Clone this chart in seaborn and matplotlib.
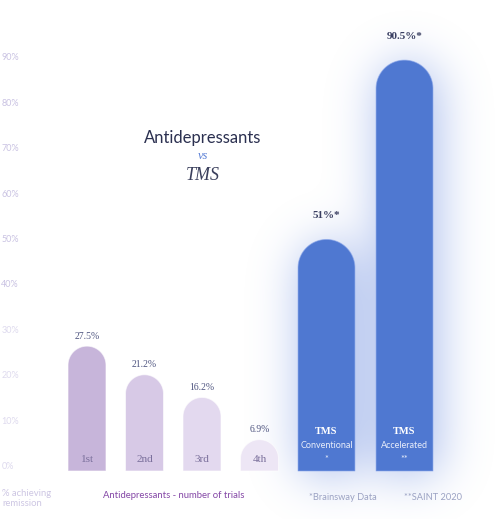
import numpy as np
import pandas as pd
import matplotlib
matplotlib.use("Agg")
import matplotlib.pyplot as plt
import seaborn as sns
from matplotlib.path import Path
from matplotlib.patches import PathPatch
from matplotlib.colors import to_rgb

# ---------------- data ----------------
categories = ["1st", "2nd", "3rd", "4th", "TMS Conventional", "TMS Accelerated"]
values = [27.5, 21.2, 16.2, 6.9, 51.0, 90.5]
value_labels = ["27.5%", "21.2%", "16.2%", "6.9%", "51%*", "90.5%*"]
bar_names = ["1st", "2nd", "3rd", "4th", "TMS", "TMS"]
bar_subs = ["", "", "", "", "Conventional", "Accelerated"]
bar_notes = ["", "", "", "", "*", "**"]
ytick_values = [0, 10, 20, 30, 40, 50, 60, 70, 80, 90]
ytick_labels = ["0%", "10%", "20%", "30%", "40%", "50%", "60%", "70%", "80%", "90%"]

# ---------------- style / layout ----------------
colors = ["#c7b5da", "#d7c9e6", "#e3d9ef", "#ede6f5", "#4f78d1", "#4f78d1"]
centers = [0, 1, 2, 3, 4.165, 5.522]
widths = [0.66, 0.66, 0.66, 0.66, 0.99, 0.99]
is_tms = [False, False, False, False, True, True]

W, H = 500, 519
sns.set_theme(style="white")
plt.rcParams['font.family'] = ['Lato', 'DejaVu Sans']

fig = plt.figure(figsize=(W / 100, H / 100), dpi=100)
ax = fig.add_axes([0, 0, 1, 1])

df = pd.DataFrame({"cat": categories, "value": values})
sns.barplot(data=df, x="cat", y="value", hue="cat", order=categories,
            hue_order=categories, palette=colors, legend=False, ax=ax,
            width=0.66, saturation=1, errorbar=None)

xunit = 57.5
xlo = -87 / xunit
ax.set_xlim(xlo, xlo + W / xunit)
yunit = 4.54
ylo = -48 / yunit
ax.set_ylim(ylo, ylo + H / yunit)
pxx = W / (ax.get_xlim()[1] - ax.get_xlim()[0])
pxy = H / (ax.get_ylim()[1] - ax.get_ylim()[0])


def rounded(cx, w, h):
    """bar path with a semicircular top"""
    rx = w / 2
    ry = (w / 2 * pxx) / pxy
    top = h - ry
    t = np.linspace(np.pi, 0, 60)
    pts = [(cx - rx, 0), (cx - rx, top)]
    pts += list(zip(cx + rx * np.cos(t), top + ry * np.sin(t)))
    pts += [(cx + rx, 0), (cx - rx, 0)]
    codes = [Path.MOVETO] + [Path.LINETO] * (len(pts) - 2) + [Path.CLOSEPOLY]
    return Path(pts, codes)


# pixel grid in data coordinates (for the soft glow)
gx = ax.get_xlim()[0] + (np.arange(W) + 0.5) / pxx
gy = ax.get_ylim()[1] - (np.arange(H) + 0.5) / pxy
GX, GY = np.meshgrid(gx, gy)
grid_pts = np.column_stack([GX.ravel(), GY.ravel()])
mask = np.zeros(H * W)

bars = sorted(ax.patches, key=lambda p: p.get_x())
for p in bars:
    i = int(round(p.get_x() + p.get_width() / 2))
    h = p.get_height()
    cx, w = centers[i], widths[i]
    p.set_visible(False)
    col = p.get_facecolor()
    path = rounded(cx, w, h)
    if is_tms[i]:
        mask = np.maximum(mask, path.contains_points(grid_pts).astype(float))
        edge = (0.55, 0.66, 0.92, 0.6)
    else:
        edge = (1, 1, 1, 0.6)
    ax.add_patch(PathPatch(path, facecolor=col, edgecolor=edge, lw=0.7,
                           zorder=3))
    # value label on top
    off = 24 if is_tms[i] else 10
    ax.annotate(value_labels[i], (cx, h), xytext=(0, off * 0.72),
                textcoords="offset points", ha="center", va="center",
                family="Liberation Serif",
                fontsize=8 if is_tms[i] else 7,
                fontweight="bold" if is_tms[i] else "normal",
                color="#3a3f62" if is_tms[i] else "#4f5580", zorder=5)
    if is_tms[i]:
        ax.annotate(bar_names[i], (cx, 0), xytext=(0, 40 * 0.72),
                    textcoords="offset points", ha="center", va="center",
                    family="Liberation Serif", fontweight="bold",
                    fontsize=7.5, color="white", zorder=5)
        ax.annotate(bar_subs[i], (cx, 0), xytext=(0, 26 * 0.72),
                    textcoords="offset points", ha="center", va="center",
                    fontsize=6.5, color="#e8edfa", zorder=5)
        ax.annotate(bar_notes[i], (cx, 0), xytext=(0, 11 * 0.72),
                    textcoords="offset points", ha="center", va="center",
                    fontsize=6.5, color="#e8edfa", zorder=5)
    else:
        ax.annotate(bar_names[i], (cx, 0), xytext=(0, 11 * 0.72),
                    textcoords="offset points", ha="center", va="center",
                    family="Liberation Serif", fontsize=8,
                    color="#7a6f9b", zorder=5)

# soft gaussian glow behind the TMS bars
m = mask.reshape(H, W)
pad = 120
m = np.pad(m, pad)
sig = 24.0
kx = np.arange(-3 * int(sig), 3 * int(sig) + 1)
kern = np.exp(-0.5 * (kx / sig) ** 2)
kern /= kern.sum()
m = np.apply_along_axis(lambda r: np.convolve(r, kern, mode="same"), 1, m)
m = np.apply_along_axis(lambda c: np.convolve(c, kern, mode="same"), 0, m)
# shift slightly right / down
m = m[pad - 3:pad - 3 + H, pad - 4:pad - 4 + W]
rgba = np.zeros((H, W, 4))
rgba[..., :3] = to_rgb("#6f8fe0")
rgba[..., 3] = np.clip(m * 0.62, 0, 1)
xl, yl = ax.get_xlim(), ax.get_ylim()
ax.imshow(rgba, extent=[xl[0], xl[1], yl[0], yl[1]], origin="upper",
          aspect="auto", zorder=1, interpolation="bilinear")
ax.set_xlim(xl)
ax.set_ylim(yl)

# y ticks inside the axes, left aligned
ax.set_yticks(ytick_values)
ax.set_yticklabels(ytick_labels)
ax.tick_params(axis="y", length=0, pad=-1, labelsize=6.5)
for v, t in zip(ytick_values, ax.get_yticklabels()):
    t.set_horizontalalignment("left")
    t.set_verticalalignment("bottom")
    t.set_color("#c9c2e2" if v >= 40 else "#dedaee")
ax.set_xticks([])
ax.set_xlabel("")
ax.set_ylabel("")
for s in ax.spines.values():
    s.set_visible(False)

# titles
fig.text(203 / W, 1 - 138 / H, "Antidepressants", ha="center", va="center",
         fontsize=12, color="#2b3050")
fig.text(203 / W, 1 - 156 / H, "vs", ha="center", va="center",
         family="Liberation Serif", style="italic", fontsize=9,
         color="#5a7fd6")
fig.text(203 / W, 1 - 175 / H, "TMS", ha="center", va="center",
         family="Liberation Serif", style="italic", fontsize=13,
         color="#3a3f5c")

# bottom notes
fig.text(2 / W, 1 - 493 / H, "% achieving", ha="left", va="center",
         fontsize=6.8, color="#cdc6e3")
fig.text(2 / W, 1 - 503 / H, "remission", ha="left", va="center",
         fontsize=6.8, color="#cdc6e3")
fig.text(174 / W, 1 - 495 / H, "Antidepressants - number of trials",
         ha="center", va="center", fontsize=6.8, color="#8447a6")
fig.text(343 / W, 1 - 497 / H, "*Brainsway Data", ha="center", va="center",
         fontsize=6.7, color="#9ba2c3")
fig.text(433 / W, 1 - 497 / H, "**SAINT 2020", ha="center", va="center",
         fontsize=6.7, color="#9ba2c3")

fig.savefig("out.png", dpi=100, facecolor="white")
